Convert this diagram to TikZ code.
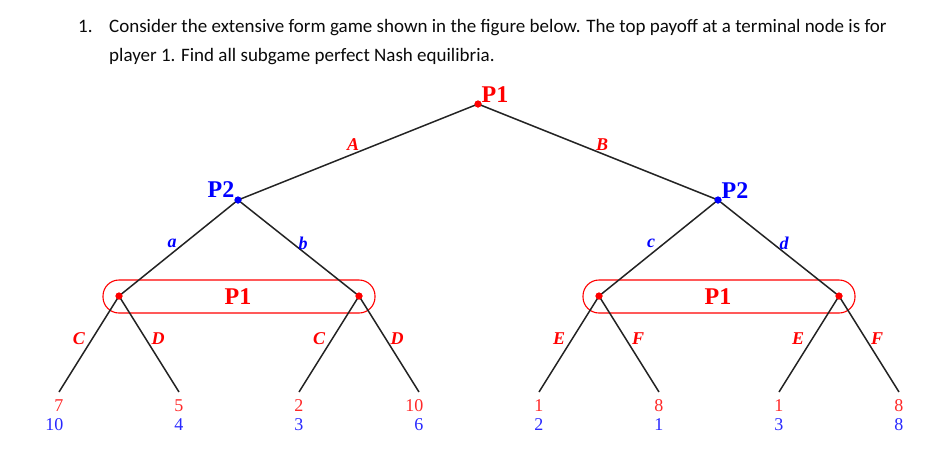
\documentclass[tikz,border=0pt]{standalone}
\usepackage{fontspec}
\setmainfont{Liberation Serif}
\newfontfamily\hdrfont{Carlito}
\definecolor{pred}{RGB}{255,0,0}
\definecolor{pblue}{RGB}{0,0,255}
\definecolor{pay1}{RGB}{255,40,40}
\definecolor{pay2}{RGB}{40,40,255}
\definecolor{edgec}{RGB}{35,35,35}
\definecolor{hdrc}{RGB}{10,10,10}
\begin{document}
\begin{tikzpicture}[x=1pt,y=-1pt,
  dotr/.style={circle,fill=pred,inner sep=0pt,minimum size=7pt},
  dotb/.style={circle,fill=pblue,inner sep=0pt,minimum size=7pt},
  branch/.style={draw=edgec,line width=1.5pt},
  infoset/.style={draw=pred,line width=1.1pt,rounded corners=16pt},
  plab/.style={font=\fontsize{24}{24}\selectfont\bfseries,inner sep=0pt},
  elab/.style={font=\fontsize{18}{18}\selectfont\bfseries\itshape,inner sep=0pt},
  payoff/.style={font=\fontsize{18}{18}\selectfont,inner sep=0pt,anchor=base east},
  hdr/.style={font=\hdrfont\fontsize{19}{19}\selectfont,text=hdrc,inner sep=0pt,anchor=base west}]
\useasboundingbox (0,0) rectangle (936,448);

% header
\node[hdr] (num) at (78,32) {1.};
\node[hdr] (h1) at (109,32) {Consider the extensive form game shown in the figure below. The top payoff at a terminal node is for};
\node[hdr] (h2) at (109,61) {player 1. Find all subgame perfect Nash equilibria.};

% information sets
\draw[infoset] (103,280) rectangle (375,313);
\draw[infoset] (583,280) rectangle (855,313);

% decision nodes
\node[dotr] (r) at (478,104) {};
\node[dotb] (l) at (238,200) {};
\node[dotb] (rr) at (718,200) {};
\node[dotr] (l1) at (119,296) {};
\node[dotr] (l2) at (359,296) {};
\node[dotr] (r1) at (599,296) {};
\node[dotr] (r2) at (839,296) {};

% terminal nodes
\coordinate (t1) at (59,392);
\coordinate (t2) at (179,392);
\coordinate (t3) at (299,392);
\coordinate (t4) at (419,392);
\coordinate (t5) at (539,392);
\coordinate (t6) at (659,392);
\coordinate (t7) at (779,392);
\coordinate (t8) at (899,392);

% branches
\draw[branch] (r.center) -- (l.center);
\draw[branch] (r.center) -- (rr.center);
\draw[branch] (l.center) -- (l1.center);
\draw[branch] (l.center) -- (l2.center);
\draw[branch] (rr.center) -- (r1.center);
\draw[branch] (rr.center) -- (r2.center);
\draw[branch] (l1.center) -- (t1);
\draw[branch] (l1.center) -- (t2);
\draw[branch] (l2.center) -- (t3);
\draw[branch] (l2.center) -- (t4);
\draw[branch] (r1.center) -- (t5);
\draw[branch] (r1.center) -- (t6);
\draw[branch] (r2.center) -- (t7);
\draw[branch] (r2.center) -- (t8);

% redraw dots on top
\foreach \n in {r,l1,l2,r1,r2} \fill[pred] (\n.center) circle (3.5pt);
\foreach \n in {l,rr} \fill[pblue] (\n.center) circle (3.5pt);

% player labels
\node[plab,text=pred] (pr) at (495,95) {P1};
\node[plab,text=pblue] (pl) at (221,190) {P2};
\node[plab,text=pblue] (prr) at (735,191) {P2};
\node[plab,text=pred] (pi1) at (238,297) {P1};
\node[plab,text=pred] (pi2) at (718,297) {P1};

% action labels
\node[elab,text=pred] (eA) at (353,145) {A};
\node[elab,text=pred] (eB) at (602,145) {B};
\node[elab,text=pblue] (ea) at (172,243) {a};
\node[elab,text=pblue] (eb) at (303,243) {b};
\node[elab,text=pblue] (ec) at (651,243) {c};
\node[elab,text=pblue] (ed) at (784,243) {d};
\node[elab,text=pred] (eC1) at (79,339) {C};
\node[elab,text=pred] (eD1) at (158,339) {D};
\node[elab,text=pred] (eC2) at (319,339) {C};
\node[elab,text=pred] (eD2) at (397,339) {D};
\node[elab,text=pred] (eE1) at (559,339) {E};
\node[elab,text=pred] (eF1) at (638,339) {F};
\node[elab,text=pred] (eE2) at (798,339) {E};
\node[elab,text=pred] (eF2) at (877,339) {F};

% payoffs
\foreach \x/\u/\v [count=\i] in {59/7/10,179/5/4,299/2/3,419/10/6,539/1/2,659/8/1,779/1/3,899/8/8}{
  \node[payoff,text=pay1] (u\i) at (\x+4.5,411) {\u};
  \node[payoff,text=pay2] (v\i) at (\x+4.5,430) {\v};
}
\end{tikzpicture}
\end{document}
